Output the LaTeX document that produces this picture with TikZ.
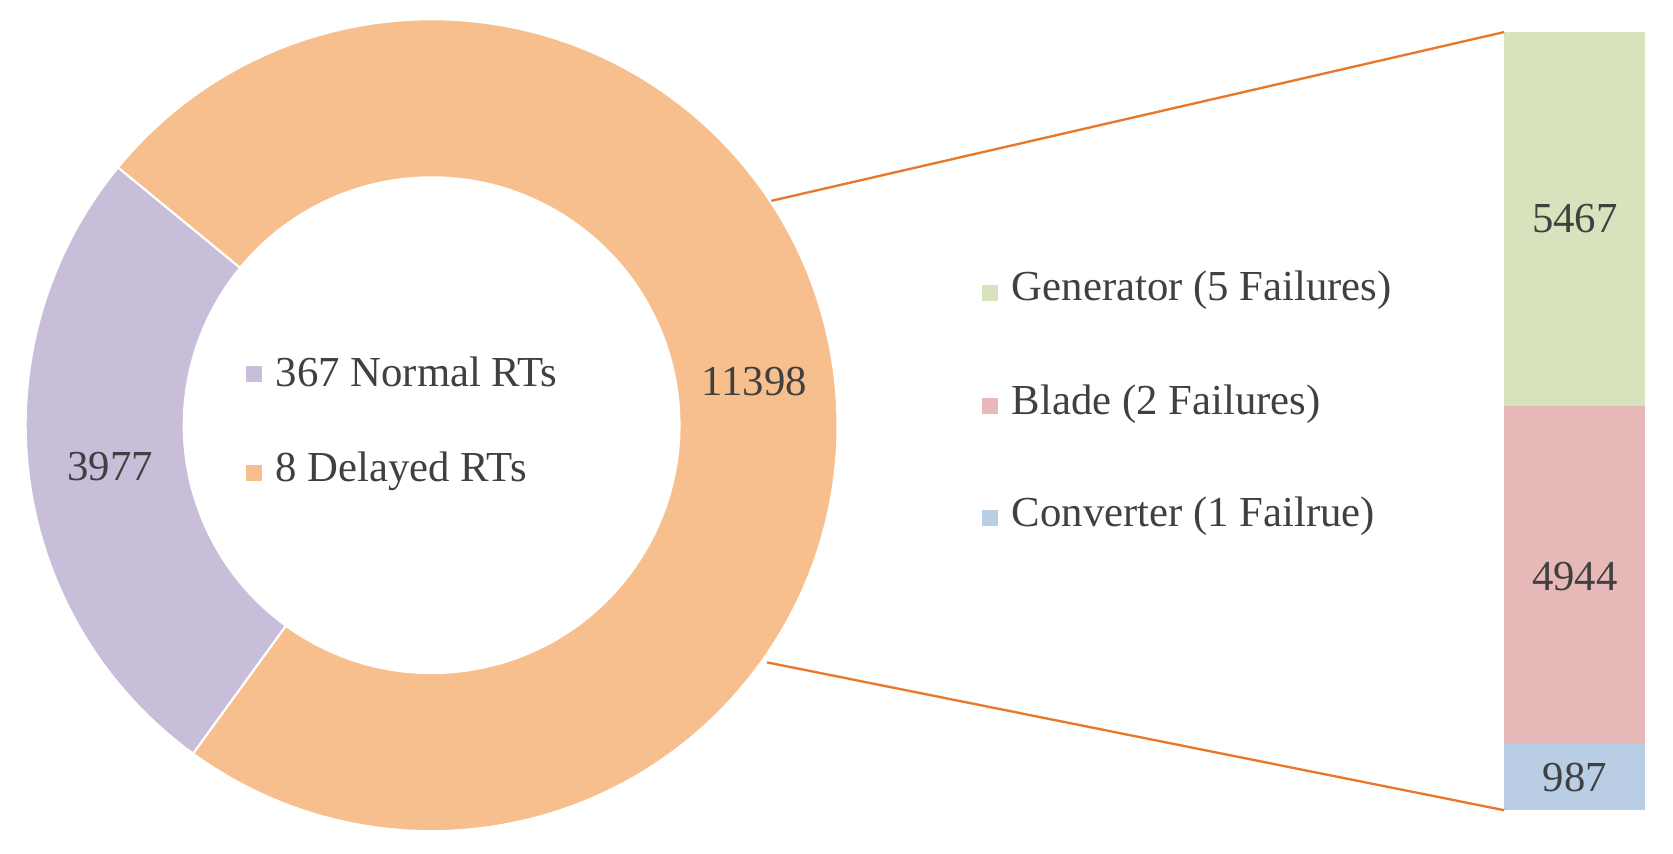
\documentclass[tikz,border=0pt]{standalone}
\usepackage{fontspec}
\setmainfont{Liberation Serif}
\usetikzlibrary{calc}
\definecolor{org}{HTML}{F8BF8E}
\definecolor{pur}{HTML}{C9BEDA}
\definecolor{grn}{HTML}{D6E3BC}
\definecolor{pnk}{HTML}{E6B9B8}
\definecolor{blu}{HTML}{B9CDE5}
\definecolor{lin}{HTML}{E8782A}
\definecolor{txt}{HTML}{404040}
\begin{document}
\begin{tikzpicture}[x=1pt,y=-1pt,
  lbl/.style={font=\fontsize{40}{40}\selectfont,text=txt,inner sep=0pt},
  sq/.style={minimum size=15pt,inner sep=0pt}]
\useasboundingbox (0,0) rectangle (1566,799);
\def\R{380}\def\r{232}
\fill[org,draw=white,line width=2pt] (404,398) ++(-140.6:\R) arc[start angle=-140.6,end angle=126,radius=\R] -- ($(404,398)+(126:\r)$) arc[start angle=126,end angle=-140.6,radius=\r] -- cycle;
\fill[pur,draw=white,line width=2pt] (404,398) ++(-140.6:\R) arc[start angle=-140.6,end angle=-234,radius=\R] -- ($(404,398)+(-234:\r)$) arc[start angle=-234,end angle=-140.6,radius=\r] -- cycle;
\node[fill=grn,minimum width=132pt,minimum height=350pt,inner sep=0pt,anchor=north west] (g) at (1408,30) {};
\node[fill=pnk,minimum width=132pt,minimum height=315pt,inner sep=0pt,anchor=north west] (p) at (1408,380) {};
\node[fill=blu,minimum width=132pt,minimum height=63pt,inner sep=0pt,anchor=north west] (b) at (1408,695) {};
\coordinate (d1) at (722,188);
\coordinate (d2) at (718,620);
\draw[lin,line width=2.2pt] (d1) -- (g.north west);
\draw[lin,line width=2.2pt] (d2) -- (b.south west);
\node[lbl] (v1) at (1474,205) {5467};
\node[lbl] (v2) at (1474,540) {4944};
\node[lbl] (v3) at (1474,728) {987};
\node[lbl] (a1) at (103,437) {3977};
\node[lbl] (a2) at (706,357) {11398};
\node[sq,fill=pur] (s1) at (238,350) {};
\node[lbl,anchor=west] (t1) at (258,348) {367 Normal RTs};
\node[sq,fill=org] (s2) at (238,443) {};
\node[lbl,anchor=west] (t2) at (258,441) {8 Delayed RTs};
\node[sq,fill=grn] (s3) at (927,274) {};
\node[lbl,anchor=west] (t3) at (947,272) {Generator (5 Failures)};
\node[sq,fill=pnk] (s4) at (927,380) {};
\node[lbl,anchor=west] (t4) at (947,378) {Blade (2 Failures)};
\node[sq,fill=blu] (s5) at (927,485) {};
\node[lbl,anchor=west] (t5) at (947,483) {Converter (1 Failrue)};
\end{tikzpicture}
\end{document}
